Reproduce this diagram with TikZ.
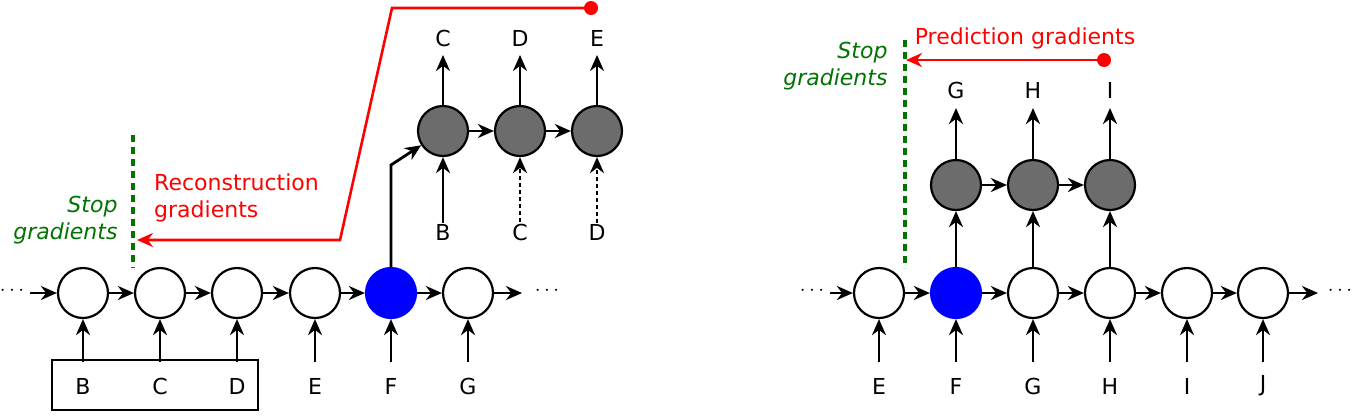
\documentclass[tikz,border=0pt]{standalone}
\usepackage{fontspec}
\setmainfont{DejaVu Sans}
\usetikzlibrary{arrows.meta}
\begin{document}
\begin{tikzpicture}[x=1pt,y=-1pt,
  cell/.style={circle,draw,line width=2.2pt,minimum size=50pt,inner sep=0pt,fill=white},
  graycell/.style={cell,fill=gray!85!black},
  bluecell/.style={cell,fill=blue,draw=blue},
  lbl/.style={font=\fontsize{22}{27}\selectfont,inner sep=1pt},
  arr/.style={line width=2.8pt,-{Stealth[length=16pt,width=14pt]}},
  redline/.style={draw=red,line width=2.6pt},
  stop/.style={draw=green!45!black,line width=3.5pt,dash pattern=on 7pt off 5pt},
  stopt/.style={text=green!45!black,font=\fontsize{22}{27}\selectfont\itshape,align=right}]
\useasboundingbox (0,0) rectangle (1352,416);
% left
\node[lbl] (ld1) at (12,291) {$\cdots$};
\node[cell] (a1) at (83,293) {};
\node[cell] (a2) at (160,293) {};
\node[cell] (a3) at (237,293) {};
\node[cell] (a4) at (315,293) {};
\node[bluecell] (a5) at (391,293) {};
\node[cell] (a6) at (468,293) {};
\node[lbl] (ld2) at (547,291) {$\cdots$};
\draw[arr] (30,293) -- (a1);
\draw[arr] (a1)--(a2); \draw[arr] (a2)--(a3); \draw[arr] (a3)--(a4);
\draw[arr] (a4)--(a5); \draw[arr] (a5)--(a6); \draw[arr] (a6)--(522,293) coordinate (ae);
\node[draw,line width=2pt,minimum width=206pt,minimum height=50pt] (box) at (155,385) {};
\foreach \n/\x/\t in {1/83/B,2/160/C,3/237/D,4/315/E,5/391/F,6/468/G}{
  \node[lbl] (li\n) at (\x,386) {\t};
  \draw[arr] (\x,362) -- (a\n);
}
\node[graycell] (g1) at (443,131) {};
\node[graycell] (g2) at (520,131) {};
\node[graycell] (g3) at (597,131) {};
\draw[arr] (g1)--(g2); \draw[arr] (g2)--(g3);
\foreach \n/\x/\o/\i in {1/443/C/B,2/520/D/C,3/597/E/D}{
  \node[lbl] (go\n) at (\x,38) {\o};
  \node[lbl] (gi\n) at (\x,232) {\i};
  \draw[arr] (g\n) -- (\x,55);
}
\draw[arr] (gi1) -- (g1);
\draw[arr,dash pattern=on 4pt off 3pt] (gi2) -- (g2);
\draw[arr,dash pattern=on 4pt off 3pt] (gi3) -- (g3);
\draw[arr] (a5) -- (391,165) -- (g1);
\fill[red] (591,8) circle (7pt);
\draw[redline,-{Stealth[length=16pt,width=14pt]}] (591,8) -- (392,8) -- (340,240) -- (137,240);
\node[lbl,text=red,align=left,anchor=west] (rt) at (153,198) {Reconstruction\\gradients};
\draw[stop] (133,135) -- (133,268);
\node[stopt,anchor=east] (st1) at (121,220) {Stop\\gradients};
% right
\node[lbl] (rd1) at (812,291) {$\cdots$};
\node[cell] (b1) at (879,293) {};
\node[bluecell] (b2) at (956,293) {};
\node[cell] (b3) at (1033,293) {};
\node[cell] (b4) at (1110,293) {};
\node[cell] (b5) at (1187,293) {};
\node[cell] (b6) at (1263,293) {};
\node[lbl] (rd2) at (1340,291) {$\cdots$};
\draw[arr] (830,293)--(b1);
\draw[arr] (b1)--(b2); \draw[arr] (b2)--(b3); \draw[arr] (b3)--(b4);
\draw[arr] (b4)--(b5); \draw[arr] (b5)--(b6); \draw[arr] (b6)--(1318,293);
\foreach \n/\x/\t in {1/879/E,2/956/F,3/1033/G,4/1110/H,5/1187/I,6/1263/J}{
  \node[lbl] (ri\n) at (\x,386) {\t};
  \draw[arr] (\x,362) -- (b\n);
}
\node[graycell] (h1) at (956,185) {};
\node[graycell] (h2) at (1033,185) {};
\node[graycell] (h3) at (1110,185) {};
\draw[arr] (h1)--(h2); \draw[arr] (h2)--(h3);
\draw[arr] (b2)--(h1); \draw[arr] (b3)--(h2); \draw[arr] (b4)--(h3);
\foreach \n/\x/\o in {1/956/G,2/1033/H,3/1110/I}{
  \node[lbl] (ho\n) at (\x,90) {\o};
  \draw[arr] (h\n) -- (\x,108);
}
\fill[red] (1104,60) circle (7pt);
\draw[redline,-{Stealth[length=16pt,width=14pt]}] (1104,60) -- (906,60);
\node[lbl,text=red] (pt) at (1025,38) {Prediction gradients};
\draw[stop] (905,40) -- (905,268);
\node[stopt,anchor=east] (st2) at (891,66) {Stop\\gradients};
\end{tikzpicture}
\end{document}
